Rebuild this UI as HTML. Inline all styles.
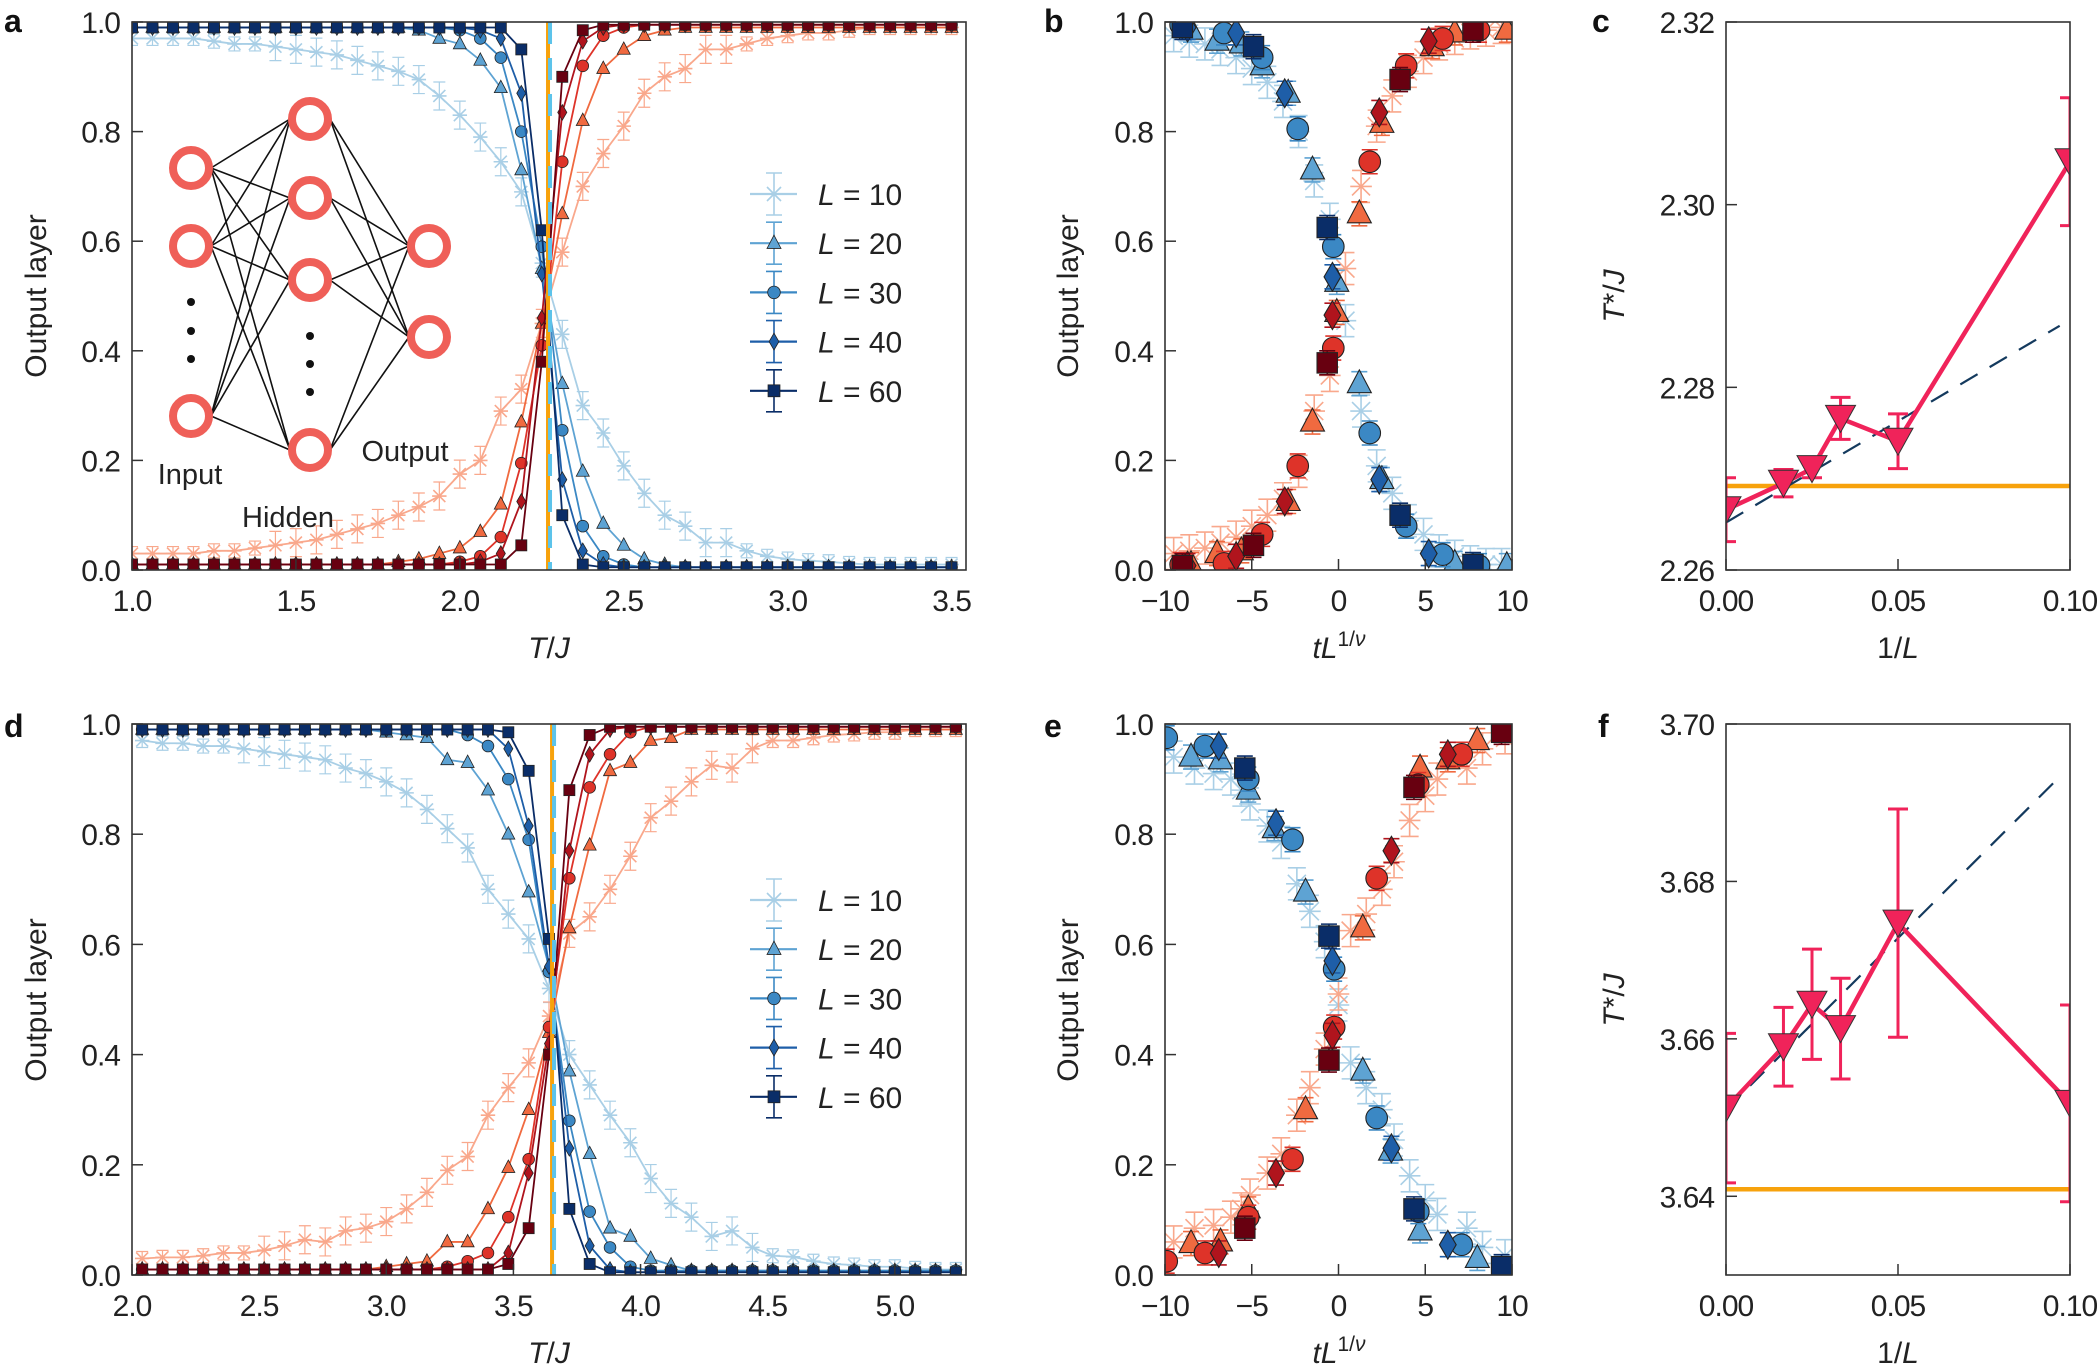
<!DOCTYPE html>
<html><head><meta charset="utf-8"><style>
html,body{margin:0;padding:0;background:#fff}
svg{display:block;font-family:"Liberation Sans",sans-serif}
</style></head><body>
<svg id="fig" width="2100" height="1371" viewBox="0 0 2100 1371" xmlns="http://www.w3.org/2000/svg"></svg>
<script>
// ---------- DATA ----------
const TA = [1,1.0625,1.125,1.1875,1.25,1.3125,1.375,1.4375,1.5,1.5625,1.625,1.6875,1.75,1.8125,1.875,1.9375,2,2.0625,2.125,2.1875,2.25,2.3125,2.375,2.4375,2.5,2.5625,2.625,2.6875,2.75,2.8125,2.875,2.9375,3,3.0625,3.125,3.1875,3.25,3.3125,3.375,3.4375,3.5];
const aB10 = [0.97,0.97,0.97,0.97,0.965,0.96,0.96,0.955,0.95,0.945,0.94,0.93,0.92,0.91,0.895,0.865,0.83,0.79,0.745,0.69,0.56,0.43,0.30,0.25,0.19,0.14,0.10,0.08,0.05,0.05,0.035,0.025,0.02,0.017,0.015,0.012,0.01,0.01,0.01,0.01,0.01];
const aR10 = [0.03,0.03,0.03,0.03,0.035,0.035,0.04,0.045,0.05,0.055,0.065,0.075,0.085,0.10,0.115,0.135,0.175,0.20,0.29,0.33,0.45,0.58,0.70,0.76,0.81,0.87,0.90,0.915,0.95,0.95,0.96,0.97,0.975,0.98,0.98,0.985,0.99,0.99,0.99,0.99,0.99];
const aB20 = [0.99,0.99,0.99,0.99,0.99,0.99,0.99,0.99,0.99,0.99,0.99,0.99,0.99,0.99,0.985,0.97,0.96,0.93,0.88,0.73,0.55,0.34,0.18,0.085,0.045,0.02,0.01,0.005,0.005,0.005,0.005,0.005,0.005,0.005,0.005,0.005,0.005,0.005,0.005,0.005,0.005];
const aR20 = [0.01,0.01,0.01,0.01,0.01,0.01,0.01,0.01,0.01,0.01,0.01,0.01,0.01,0.015,0.02,0.03,0.04,0.07,0.12,0.27,0.45,0.65,0.82,0.915,0.95,0.975,0.985,0.99,0.99,0.99,0.99,0.99,0.99,0.99,0.99,0.99,0.99,0.99,0.99,0.99,0.99];
const aB30 = [0.99,0.99,0.99,0.99,0.99,0.99,0.99,0.99,0.99,0.99,0.99,0.99,0.99,0.99,0.99,0.99,0.985,0.97,0.935,0.80,0.59,0.255,0.08,0.025,0.01,0.005,0.005,0.005,0.005,0.005,0.005,0.005,0.005,0.005,0.005,0.005,0.005,0.005,0.005,0.005,0.005];
const aR30 = [0.01,0.01,0.01,0.01,0.01,0.01,0.01,0.01,0.01,0.01,0.01,0.01,0.01,0.01,0.01,0.01,0.015,0.025,0.06,0.195,0.41,0.745,0.92,0.975,0.99,0.995,0.995,0.995,0.995,0.995,0.995,0.995,0.995,0.995,0.995,0.995,0.995,0.995,0.995,0.995,0.995];
const aB40 = [0.99,0.99,0.99,0.99,0.99,0.99,0.99,0.99,0.99,0.99,0.99,0.99,0.99,0.99,0.99,0.99,0.99,0.985,0.97,0.87,0.54,0.165,0.035,0.01,0.005,0.005,0.005,0.005,0.005,0.005,0.005,0.005,0.005,0.005,0.005,0.005,0.005,0.005,0.005,0.005,0.005];
const aR40 = [0.01,0.01,0.01,0.01,0.01,0.01,0.01,0.01,0.01,0.01,0.01,0.01,0.01,0.01,0.01,0.01,0.01,0.015,0.03,0.125,0.46,0.835,0.965,0.99,0.995,0.995,0.995,0.995,0.995,0.995,0.995,0.995,0.995,0.995,0.995,0.995,0.995,0.995,0.995,0.995,0.995];
const aB60 = [0.99,0.99,0.99,0.99,0.99,0.99,0.99,0.99,0.99,0.99,0.99,0.99,0.99,0.99,0.99,0.99,0.99,0.99,0.99,0.95,0.62,0.10,0.01,0.005,0.005,0.005,0.005,0.005,0.005,0.005,0.005,0.005,0.005,0.005,0.005,0.005,0.005,0.005,0.005,0.005,0.005];
const aR60 = [0.01,0.01,0.01,0.01,0.01,0.01,0.01,0.01,0.01,0.01,0.01,0.01,0.01,0.01,0.01,0.01,0.01,0.01,0.01,0.045,0.38,0.90,0.985,0.995,0.995,0.995,0.995,0.995,0.995,0.995,0.995,0.995,0.995,0.995,0.995,0.995,0.995,0.995,0.995,0.995,0.995];

const TD = [2.04,2.12,2.2,2.28,2.36,2.44,2.52,2.6,2.68,2.76,2.84,2.92,3,3.08,3.16,3.24,3.32,3.4,3.48,3.56,3.64,3.72,3.8,3.88,3.96,4.04,4.12,4.2,4.28,4.36,4.44,4.52,4.6,4.68,4.76,4.84,4.92,5,5.08,5.16,5.24];
const dB10 = [0.97,0.965,0.965,0.96,0.96,0.955,0.95,0.945,0.94,0.935,0.92,0.91,0.895,0.875,0.845,0.81,0.775,0.70,0.655,0.61,0.52,0.40,0.345,0.29,0.24,0.175,0.13,0.105,0.07,0.08,0.05,0.035,0.033,0.025,0.02,0.018,0.015,0.015,0.012,0.01,0.01];
const dR10 = [0.03,0.032,0.032,0.035,0.04,0.04,0.045,0.053,0.064,0.06,0.08,0.085,0.097,0.12,0.15,0.19,0.215,0.29,0.34,0.385,0.47,0.62,0.65,0.70,0.76,0.83,0.86,0.895,0.925,0.92,0.955,0.97,0.97,0.975,0.98,0.982,0.985,0.985,0.99,0.99,0.99];
const dB20 = [0.99,0.99,0.99,0.99,0.99,0.99,0.99,0.99,0.99,0.99,0.99,0.99,0.985,0.98,0.975,0.935,0.93,0.88,0.80,0.695,0.56,0.37,0.22,0.085,0.07,0.03,0.018,0.008,0.008,0.008,0.008,0.008,0.008,0.008,0.008,0.008,0.008,0.008,0.008,0.008,0.008];
const dR20 = [0.01,0.01,0.01,0.01,0.01,0.01,0.01,0.01,0.01,0.01,0.01,0.01,0.015,0.02,0.025,0.06,0.06,0.12,0.195,0.30,0.44,0.63,0.78,0.915,0.93,0.97,0.975,0.99,0.99,0.99,0.99,0.99,0.99,0.99,0.99,0.99,0.99,0.99,0.99,0.99,0.99];
const dB30 = [0.99,0.99,0.99,0.99,0.99,0.99,0.99,0.99,0.99,0.99,0.99,0.99,0.99,0.99,0.99,0.99,0.98,0.96,0.90,0.79,0.55,0.28,0.115,0.05,0.015,0.008,0.008,0.008,0.008,0.008,0.008,0.008,0.008,0.008,0.008,0.008,0.008,0.008,0.008,0.008,0.008];
const dR30 = [0.01,0.01,0.01,0.01,0.01,0.01,0.01,0.01,0.01,0.01,0.01,0.01,0.01,0.01,0.01,0.015,0.025,0.04,0.105,0.21,0.45,0.72,0.885,0.945,0.985,0.995,0.995,0.995,0.995,0.995,0.995,0.995,0.995,0.995,0.995,0.995,0.995,0.995,0.995,0.995,0.995];
const dB40 = [0.99,0.99,0.99,0.99,0.99,0.99,0.99,0.99,0.99,0.99,0.99,0.99,0.99,0.99,0.99,0.99,0.99,0.99,0.955,0.815,0.56,0.23,0.053,0.01,0.005,0.005,0.005,0.005,0.005,0.005,0.005,0.005,0.005,0.005,0.005,0.005,0.005,0.005,0.005,0.005,0.005];
const dR40 = [0.01,0.01,0.01,0.01,0.01,0.01,0.01,0.01,0.01,0.01,0.01,0.01,0.01,0.01,0.01,0.01,0.01,0.01,0.04,0.185,0.42,0.77,0.945,0.99,0.995,0.995,0.995,0.995,0.995,0.995,0.995,0.995,0.995,0.995,0.995,0.995,0.995,0.995,0.995,0.995,0.995];
const dB60 = [0.99,0.99,0.99,0.99,0.99,0.99,0.99,0.99,0.99,0.99,0.99,0.99,0.99,0.99,0.99,0.99,0.99,0.99,0.985,0.915,0.61,0.12,0.02,0.005,0.005,0.005,0.005,0.005,0.005,0.005,0.005,0.005,0.005,0.005,0.005,0.005,0.005,0.005,0.005,0.005,0.005];
const dR60 = [0.01,0.01,0.01,0.01,0.01,0.01,0.01,0.01,0.01,0.01,0.01,0.01,0.01,0.01,0.01,0.01,0.01,0.01,0.02,0.085,0.40,0.88,0.98,0.995,0.995,0.995,0.995,0.995,0.995,0.995,0.995,0.995,0.995,0.995,0.995,0.995,0.995,0.995,0.995,0.995,0.995];

// panel b (scaling collapse)
const bX10 = [-9.5,-8.6,-7.7,-6.8,-5.9,-5.0,-4.1,-3.2,-2.3,-1.4,-0.5,0.4,1.3,2.2,3.1,4.0,4.9,5.8,6.7,7.6,8.5,9.4];
const bB10 = [0.975,0.965,0.96,0.95,0.935,0.915,0.89,0.855,0.80,0.71,0.64,0.455,0.29,0.19,0.14,0.09,0.065,0.035,0.025,0.015,0.01,0.01];
const bR10 = [0.03,0.035,0.04,0.05,0.06,0.08,0.10,0.13,0.18,0.29,0.355,0.55,0.70,0.81,0.865,0.91,0.935,0.96,0.97,0.98,0.985,0.99];
const bXB20 = [-8.5,-7,-5.6,-4.4,-2.9,-1.5,-0.1,1.2,2.5,6.7,9.7];
const bB20 = [0.985,0.965,0.96,0.92,0.87,0.73,0.525,0.34,0.165,0.012,0.008];
const bXR20 = [-8.5,-7,-5.6,-2.9,-1.5,-0.1,1.2,2.5,5.4,6.7,9.7];
const bR20 = [0.01,0.03,0.035,0.125,0.27,0.47,0.65,0.815,0.955,0.98,0.985];
const bX30 = [-9.1,-6.6,-4.4,-2.35,-0.3,1.8,3.9,6.0,8.1];
const bB30 = [0.995,0.98,0.935,0.805,0.59,0.25,0.08,0.028,0.008];
const bR30 = [0.01,0.012,0.065,0.19,0.405,0.745,0.92,0.97,0.985];
const bX40 = [-8.7,-5.9,-3.1,-0.35,2.35,5.2];
const bB40 = [0.99,0.98,0.87,0.535,0.165,0.03];
const bR40 = [0.008,0.025,0.125,0.465,0.835,0.965];
const bX60 = [-9,-4.9,-0.65,3.55,7.75];
const bB60 = [0.99,0.955,0.625,0.10,0.01];
const bR60 = [0.008,0.045,0.378,0.895,0.985];

// panel e
const eX10 = [-9.5,-8.3,-7.2,-6.2,-5.6,-5.1,-4.1,-3.3,-2.4,-1.65,-0.8,0,0.7,1.6,2.5,3.2,4.1,5.0,5.7,7.4,8.3,9.6];
const eB10 = [0.94,0.92,0.91,0.90,0.88,0.855,0.815,0.785,0.71,0.66,0.605,0.49,0.385,0.34,0.30,0.245,0.18,0.135,0.11,0.085,0.05,0.035];
const eR10 = [0.06,0.085,0.09,0.105,0.12,0.145,0.185,0.22,0.29,0.34,0.41,0.51,0.625,0.655,0.70,0.75,0.825,0.87,0.90,0.92,0.955,0.975];
const eXB20 = [-8.5,-6.8,-5.2,-3.7,-1.9,1.4,3.0,4.7,8.0];
const eB20 = [0.94,0.935,0.88,0.81,0.695,0.37,0.225,0.08,0.03];
const eXR20 = [-8.5,-6.8,-5.2,-1.9,1.4,4.7,6.3,8.0];
const eR20 = [0.057,0.06,0.12,0.30,0.63,0.92,0.935,0.97];
const eX30 = [-9.9,-7.7,-5.2,-2.65,-0.25,2.2,4.6,7.1];
const eB30 = [0.975,0.96,0.90,0.79,0.555,0.285,0.115,0.055];
const eR30 = [0.025,0.04,0.105,0.21,0.45,0.72,0.89,0.945];
const eX40 = [-6.9,-3.6,-0.35,3.05,6.3];
const eB40 = [0.96,0.82,0.57,0.23,0.055];
const eR40 = [0.04,0.185,0.435,0.77,0.945];
const eX60 = [-5.4,-0.55,4.35,9.4];
const eB60 = [0.92,0.615,0.12,0.015];
const eR60 = [0.085,0.39,0.885,0.985];

// panels c, f
const invL = [0,0.0167,0.025,0.0333,0.05,0.1];
const cT = [2.2666,2.2695,2.2711,2.2766,2.2741,2.3047];
const cErr = [0.0035,0.0015,0.001,0.0023,0.003,0.007];
const cFit = [2.2652,0.222];
const cExact = [2.2692];
const fT = [3.6512,3.659,3.6644,3.6613,3.6747,3.6518];
const fErr = [0.0095,0.005,0.007,0.0064,0.0145,0.0125];
const fFit = [3.651,0.436];
const fExact = [3.6409];
const critA = [2.269];
const critD = [3.652];

const legendLabels = ['10','20','30','40','60'];
const xTicksA = [1.0,1.5,2.0,2.5,3.0,3.5];
const xTicksD = [2.0,2.5,3.0,3.5,4.0,4.5,5.0];
const yTicks01 = [0,0.2,0.4,0.6,0.8,1.0];
const xTicksB = [-10,-5,0,5,10];
const xTicksC = [0,0.05,0.1];
const yTicksC = [2.26,2.28,2.30,2.32];
const yTicksF = [3.64,3.66,3.68,3.70];

// ---------- DRAWING ----------
const NS='http://www.w3.org/2000/svg';
const svg=document.getElementById('fig');
function mk(tag,attrs,parent){const e=document.createElementNS(NS,tag);for(const k in attrs)e.setAttribute(k,attrs[k]);(parent||svg).appendChild(e);return e;}
function lin(d0,d1,r0,r1){return v=>r0+(v-d0)/(d1-d0)*(r1-r0);}
const blues=['#a9cfe6','#5ea3d3','#3b88c4','#1e5ea8','#0a2d68'];
const reds=['#f9a88c','#f06a40','#de3329','#b0141d','#680010'];
const shapes=['x','tri','circ','dia','sq'];
let clipId=0;

function panel(name,box,xd,yd){
  const g=mk('g',{});
  
  
  const p={g,box,x:lin(xd[0],xd[1],box.l,box.r),y:lin(yd[0],yd[1],box.b,box.t)};
  const id='clip'+(clipId++);
  const cp=mk('clipPath',{id},g);
  mk('rect',{x:box.l,y:box.t,width:box.r-box.l,height:box.b-box.t},cp);
  p.plot=mk('g',{'clip-path':'url(#'+id+')'},g);
  
  
  return p;
}
function frame(p){
  const b=p.box;
  const r=mk('rect',{x:b.l,y:b.t,width:b.r-b.l,height:b.b-b.t,fill:'none',stroke:'#333',"stroke-width":1.6},p.g);
  
  
}
function xticks(p,ticks,fmt){
  const g=mk('g',{},p.g);
  
  
  ticks.forEach(v=>{const X=p.x(v);
    mk('line',{x1:X,x2:X,y1:p.box.b,y2:p.box.b-11,stroke:'#333','stroke-width':1.5},g);
    const t=mk('text',{x:X,y:p.box.b+41,'text-anchor':'middle','font-size':30,fill:'#222','letter-spacing':-1},g);
    t.textContent=fmt(v);
    
    
  });
}
function yticks(p,ticks,fmt){
  const g=mk('g',{},p.g);
  
  
  ticks.forEach(v=>{const Y=p.y(v);
    mk('line',{x1:p.box.l,x2:p.box.l+11,y1:Y,y2:Y,stroke:'#333','stroke-width':1.5},g);
    const t=mk('text',{x:p.box.l-12,y:Y+11,'text-anchor':'end','font-size':30,fill:'#222','letter-spacing':-1},g);
    t.textContent=fmt(v);
    
    
  });
}
function marker(parent,shape,X,Y,s,fill,stroke,sw){
  let e;
  if(shape==='x'){e=mk('path',{d:`M${X-s} ${Y-s}L${X+s} ${Y+s}M${X-s} ${Y+s}L${X+s} ${Y-s}M${X-s*1.2} ${Y}L${X+s*1.2} ${Y}`,stroke:fill,'stroke-width':1.6,fill:'none'},parent);}
  else if(shape==='tri'){e=mk('path',{d:`M${X} ${Y-s*1.15}L${X+s} ${Y+s*0.75}L${X-s} ${Y+s*0.75}Z`,fill,stroke,'stroke-width':sw},parent);}
  else if(shape==='circ'){e=mk('circle',{cx:X,cy:Y,r:s*0.9,fill,stroke,'stroke-width':sw},parent);}
  else if(shape==='dia'){e=mk('path',{d:`M${X} ${Y-s*1.2}L${X+s*0.7} ${Y}L${X} ${Y+s*1.2}L${X-s*0.7} ${Y}Z`,fill,stroke,'stroke-width':sw},parent);}
  else {e=mk('rect',{x:X-s*0.85,y:Y-s*0.85,width:s*1.7,height:s*1.7,fill,stroke,'stroke-width':sw},parent);}
  
  
  return e;
}
function errbar(parent,X,Y1,Y2,cap,color,w){
  mk('path',{d:`M${X} ${Y1}L${X} ${Y2}M${X-cap} ${Y1}L${X+cap} ${Y1}M${X-cap} ${Y2}L${X+cap} ${Y2}`,stroke:color,'stroke-width':w,fill:'none'},parent);
}
function curve(p,xs,ys,i,color,name){
  const g=mk('g',{},p.plot);
  
  
  const pts=xs.map((v,k)=>p.x(v)+','+p.y(ys[k])).join(' ');
  mk('polyline',{points:pts,fill:'none',stroke:color,'stroke-width':1.8},g);
  xs.forEach((v,k)=>{const X=p.x(v),Y=p.y(ys[k]);
    if(i===0){const e=(ys[k]>0.04&&ys[k]<0.96)?14:7;errbar(g,X,Y-e,Y+e,6,color,1.2);}
    marker(g,shapes[i],X,Y,i===0?6:6.5,color,'#222',0.8);
  });
}
function scatter(p,xs,ys,i,color,name){
  const g=mk('g',{},p.plot);
  
  
  xs.forEach((v,k)=>{const X=p.x(v),Y=p.y(ys[k]);
    errbar(g,X,Y-(i===0?16:12),Y+(i===0?16:12),i===0?9:8,color,1.6);
    if(i===0) marker(g,'x',X,Y,9,color,color,1);
    else marker(g,shapes[i],X,Y,12,color,'#222',1.1);
  });
}
function critical(p,v){
  const X=p.x(v);
  const a=mk('line',{x1:X,x2:X,y1:p.box.t,y2:p.box.b,stroke:'#f7a20c','stroke-width':4},p.plot);
  
  
  const b=mk('line',{x1:X+2,x2:X+2,y1:p.box.t,y2:p.box.b,stroke:'#5cc3ea','stroke-width':4,'stroke-dasharray':'22 14'},p.plot);
  
  
}
function text(x,y,str,size,opts,name){
  const t=mk('text',Object.assign({x,y,'font-size':size,fill:'#222'},opts||{}));
  t.innerHTML=str;
  
  
  return t;
}
function ytitle(x,y,str,name){
  const t=text(0,0,str,30,{'text-anchor':'middle',transform:`translate(${x},${y}) rotate(-90)`},name);
  return t;
}
function legend(p,y0){
  const g=mk('g',{},p.g);
  
  
  legendLabels.forEach((lab,i)=>{
    const Y=y0+i*49.2, c=blues[i];
    const e=mk('g',{},g);
    
    
    mk('line',{x1:750,x2:797,y1:Y,y2:Y,stroke:c,'stroke-width':2.2},e);
    errbar(e,774,Y-21,Y+21,8,c,1.6);
    marker(e,shapes[i],774,Y,i===0?7:7,c,'#222',0.8);
    const t=mk('text',{x:818,y:Y+11,'font-size':30,fill:'#222'},e);
    t.innerHTML='<tspan font-style="italic">L</tspan> = '+lab;
  });
}
function fss(p,xs,ys,errs,fit,exact,fitEnd){
  const g=p.plot;
  const o=mk('line',{x1:p.box.l,x2:p.box.r,y1:p.y(exact[0]),y2:p.y(exact[0]),stroke:'#f7a20c','stroke-width':4.5},g);
  
  
  const d=mk('line',{x1:p.x(0),y1:p.y(fit[0]),x2:p.x(fitEnd),y2:p.y(fit[0]+fit[1]*fitEnd),stroke:'#143a5e','stroke-width':2.2,'stroke-dasharray':'20 14'},g);
  
  
  const ln=mk('polyline',{points:xs.map((v,k)=>p.x(v)+','+p.y(ys[k])).join(' '),fill:'none',stroke:'#f0235a','stroke-width':4.5},g);
  
  
  xs.forEach((v,k)=>{const X=p.x(v),Y=p.y(ys[k]);
    errbar(g,X,p.y(ys[k]+errs[k]),p.y(ys[k]-errs[k]),10,'#f0235a',3);
    const t=mk('path',{d:`M${X-15} ${Y-13}L${X+15} ${Y-13}L${X} ${Y+14}Z`,fill:'#f0235a',stroke:'#333','stroke-width':1},g);
    
    
  });
}
const f1=v=>v.toFixed(1), fB=v=>(v<0?'\u2212':'')+Math.abs(v), f2=v=>v.toFixed(2);

// ---- Panel a ----
const A=panel('panel-a',{l:132,r:966,t:22,b:570},[1.0,3.544],[0,1]);
// network inset
(function(){
  const g=mk('g',{},A.g);
  
  
  const inp=[[191,168],[191,246],[191,416]], hid=[[310,119],[310,198],[310,280],[310,450]], out=[[429,246],[429,337]];
  inp.forEach(a=>hid.forEach(b=>mk('line',{x1:a[0]+20,y1:a[1],x2:b[0]-20,y2:b[1],stroke:'#111','stroke-width':1.6},g)));
  hid.forEach(a=>out.forEach(b=>mk('line',{x1:a[0]+20,y1:a[1],x2:b[0]-20,y2:b[1],stroke:'#111','stroke-width':1.6},g)));
  inp.concat(hid,out).forEach(c=>{const n=mk('circle',{cx:c[0],cy:c[1],r:18,fill:'#fff',stroke:'#ef5f58','stroke-width':8},g);});
  [[191,302],[191,331],[191,359],[310,336],[310,364],[310,392]].forEach(c=>mk('circle',{cx:c[0],cy:c[1],r:4,fill:'#111'},g));
  text(190,484,'Input',29,{'text-anchor':'middle'},'input-label');
  text(288,527,'Hidden',29,{'text-anchor':'middle'},'hidden-label');
  text(405,461,'Output',29,{'text-anchor':'middle'},'output-label');
})();
[aB10,aB20,aB30,aB40,aB60].forEach((ys,i)=>curve(A,TA,ys,i,blues[i],'series-blue-L'+legendLabels[i]));
[aR10,aR20,aR30,aR40,aR60].forEach((ys,i)=>curve(A,TA,ys,i,reds[i],'series-red-L'+legendLabels[i]));
critical(A,critA[0]);
frame(A); xticks(A,xTicksA,f1); yticks(A,yTicks01,f1);
legend(A,194);

// ---- Panel d ----
const D=panel('panel-d',{l:132,r:966,t:724,b:1275},[2.0,5.28],[0,1]);
[dB10,dB20,dB30,dB40,dB60].forEach((ys,i)=>curve(D,TD,ys,i,blues[i],'series-blue-L'+legendLabels[i]));
[dR10,dR20,dR30,dR40,dR60].forEach((ys,i)=>curve(D,TD,ys,i,reds[i],'series-red-L'+legendLabels[i]));
critical(D,critD[0]);
frame(D); xticks(D,xTicksD,f1); yticks(D,yTicks01,f1);
legend(D,900);

// ---- Panel b ----
const B=panel('panel-b',{l:1165,r:1512,t:22,b:570},[-10,10],[0,1]);
scatter(B,bX10,bB10,0,blues[0],'collapse-blue-L10');
scatter(B,bX10,bR10,0,reds[0],'collapse-red-L10');
scatter(B,bXB20,bB20,1,blues[1],'collapse-blue-L20');
scatter(B,bXR20,bR20,1,reds[1],'collapse-red-L20');
scatter(B,bX30,bB30,2,blues[2],'collapse-blue-L30');
scatter(B,bX30,bR30,2,reds[2],'collapse-red-L30');
scatter(B,bX40,bB40,3,blues[3],'collapse-blue-L40');
scatter(B,bX40,bR40,3,reds[3],'collapse-red-L40');
scatter(B,bX60,bB60,4,blues[4],'collapse-blue-L60');
scatter(B,bX60,bR60,4,reds[4],'collapse-red-L60');
frame(B); xticks(B,xTicksB,fB); yticks(B,yTicks01,f1);

// ---- Panel e ----
const E=panel('panel-e',{l:1165,r:1512,t:724,b:1275},[-10,10],[0,1]);
scatter(E,eX10,eB10,0,blues[0],'collapse-blue-L10');
scatter(E,eX10,eR10,0,reds[0],'collapse-red-L10');
scatter(E,eXB20,eB20,1,blues[1],'collapse-blue-L20');
scatter(E,eXR20,eR20,1,reds[1],'collapse-red-L20');
scatter(E,eX30,eB30,2,blues[2],'collapse-blue-L30');
scatter(E,eX30,eR30,2,reds[2],'collapse-red-L30');
scatter(E,eX40,eB40,3,blues[3],'collapse-blue-L40');
scatter(E,eX40,eR40,3,reds[3],'collapse-red-L40');
scatter(E,eX60,eB60,4,blues[4],'collapse-blue-L60');
scatter(E,eX60,eR60,4,reds[4],'collapse-red-L60');
frame(E); xticks(E,xTicksB,fB); yticks(E,yTicks01,f1);

// ---- Panel c ----
const C=panel('panel-c',{l:1726,r:2070,t:22,b:570},[0,0.1],[2.26,2.32]);
fss(C,invL,cT,cErr,cFit,cExact,0.097);
frame(C); xticks(C,xTicksC,f2); yticks(C,yTicksC,f2);

// ---- Panel f ----
const F=panel('panel-f',{l:1726,r:2070,t:724,b:1275},[0,0.1],[3.63,3.70]);
fss(F,invL,fT,fErr,fFit,fExact,0.0955);
frame(F); xticks(F,xTicksC,f2); yticks(F,yTicksF,f2);

// ---- titles & letters ----
[['a',4,32],['b',1044,32],['c',1592,32],['d',4,737],['e',1044,737],['f',1598,737]].forEach(l=>text(l[1],l[2],l[0],32,{'font-weight':'bold',fill:'#111'},'panel-letter-'+l[0]));
ytitle(46,296,'Output layer','y-axis-title-a');
ytitle(46,1000,'Output layer','y-axis-title-d');
ytitle(1078,296,'Output layer','y-axis-title-b');
ytitle(1078,1000,'Output layer','y-axis-title-e');
ytitle(1624,296,'<tspan font-style="italic">T</tspan>*/<tspan font-style="italic">J</tspan>','y-axis-title-c');
ytitle(1624,1000,'<tspan font-style="italic">T</tspan>*/<tspan font-style="italic">J</tspan>','y-axis-title-f');
text(549,658,'<tspan font-style="italic">T</tspan>/<tspan font-style="italic">J</tspan>',30,{'text-anchor':'middle'},'x-axis-title-a');
text(549,1363,'<tspan font-style="italic">T</tspan>/<tspan font-style="italic">J</tspan>',30,{'text-anchor':'middle'},'x-axis-title-d');
['b','e'].forEach((n,i)=>text(1339,i?1363:658,'<tspan font-style="italic">tL</tspan><tspan font-size="21" dy="-12">1/</tspan><tspan font-size="21" font-style="italic">ν</tspan>',30,{'text-anchor':'middle'},'x-axis-title-'+n));
['c','f'].forEach((n,i)=>text(1898,i?1363:658,'1/<tspan font-style="italic">L</tspan>',30,{'text-anchor':'middle'},'x-axis-title-'+n));
</script>
</body></html>
